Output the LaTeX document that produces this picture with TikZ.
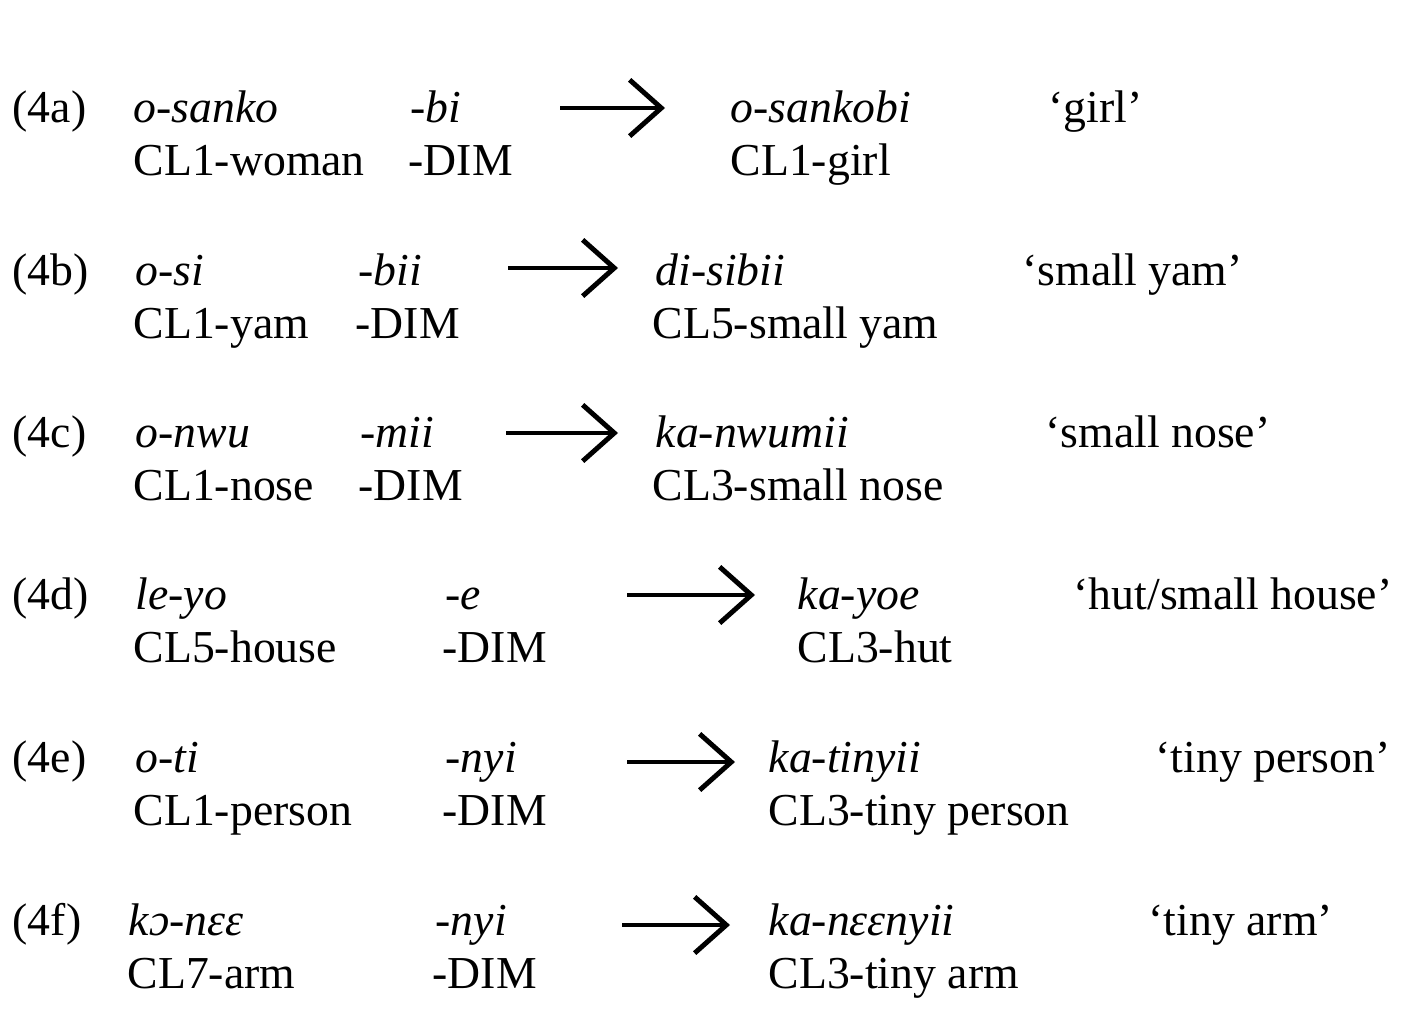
\documentclass[tikz,border=0pt]{standalone}
\usepackage{fontspec}
\setmainfont{Liberation Serif}
\usetikzlibrary{arrows.meta}
\tikzset{
  word/.style={anchor=base west, inner sep=0pt, font=\fontsize{13pt}{15pt}\selectfont},
  form/.style={word, font=\fontsize{13pt}{15pt}\selectfont\itshape},
  derive/.style={line width=1.4pt, -{Straight Barb[length=9pt,width=16pt,line width=1.4pt]}}
}
\begin{document}
\begin{tikzpicture}[x=0.01cm, y=-0.01cm]
        \useasboundingbox (0,0) rectangle (1409,1024);

        % (4a)
        \node[word] (la) at (12,122) {(4a)};
        \node[form] (a1) at (133,122) {o-sanko};
        \node[form] (a2) at (410,122) {-bi};
        \node[form] (a3) at (730,122) {o-sankobi};
        \node[word] (a4) at (1048,122) {‘girl’};
        \node[word] (ga1) at (133,175) {CL1-woman};
        \node[word] (ga2) at (408,175) {-DIM};
        \node[word] (ga3) at (730,175) {CL1-girl};
        \coordinate (as) at (560,108);
        \coordinate (ae) at (665,108);

        % (4b)
        \node[word] (lb) at (12,285) {(4b)};
        \node[form] (b1) at (135,285) {o-si};
        \node[form] (b2) at (358,285) {-bii};
        \node[form] (b3) at (655,285) {di-sibii};
        \node[word] (b4) at (1022,285) {‘small yam’};
        \node[word] (gb1) at (133,338) {CL1-yam};
        \node[word] (gb2) at (355,338) {-DIM};
        \node[word] (gb3) at (652,338) {CL5-small yam};
        \coordinate (bs) at (508,268);
        \coordinate (be) at (618,268);

        % (4c)
        \node[word] (lc) at (12,447) {(4c)};
        \node[form] (c1) at (135,447) {o-nwu};
        \node[form] (c2) at (360,447) {-mii};
        \node[form] (c3) at (655,447) {ka-nwumii};
        \node[word] (c4) at (1045,447) {‘small nose’};
        \node[word] (gc1) at (133,500) {CL1-nose};
        \node[word] (gc2) at (358,500) {-DIM};
        \node[word] (gc3) at (652,500) {CL3-small nose};
        \coordinate (cs) at (506,433);
        \coordinate (ce) at (618,433);

        % (4d)
        \node[word] (ld) at (12,609) {(4d)};
        \node[form] (d1) at (135,609) {le-yo};
        \node[form] (d2) at (445,609) {-e};
        \node[form] (d3) at (797,609) {ka-yoe};
        \node[word] (d4) at (1073,609) {‘hut/small house’};
        \node[word] (gd1) at (133,662) {CL5-house};
        \node[word] (gd2) at (442,662) {-DIM};
        \node[word] (gd3) at (797,662) {CL3-hut};
        \coordinate (ds) at (627,595);
        \coordinate (de) at (755,595);

        % (4e)
        \node[word] (le) at (12,772) {(4e)};
        \node[form] (e1) at (135,772) {o-ti};
        \node[form] (e2) at (445,772) {-nyi};
        \node[form] (e3) at (768,772) {ka-tinyii};
        \node[word] (e4) at (1155,772) {‘tiny person’};
        \node[word] (ge1) at (133,825) {CL1-person};
        \node[word] (ge2) at (442,825) {-DIM};
        \node[word] (ge3) at (768,825) {CL3-tiny person};
        \coordinate (es) at (627,762);
        \coordinate (ee) at (735,762);

        % (4f)
        \node[word] (lf) at (12,935) {(4f)};
        \node[form] (f1) at (128,935) {kɔ-nɛɛ};
        \node[form] (f2) at (435,935) {-nyi};
        \node[form] (f3) at (768,935) {ka-nɛɛnyii};
        \node[word] (f4) at (1148,935) {‘tiny arm’};
        \node[word] (gf1) at (127,988) {CL7-arm};
        \node[word] (gf2) at (432,988) {-DIM};
        \node[word] (gf3) at (768,988) {CL3-tiny arm};
        \coordinate (fs) at (622,925);
        \coordinate (fe) at (730,925);

        % Arrows
        \draw[derive] (as) -- (ae);
        \draw[derive] (bs) -- (be);
        \draw[derive] (cs) -- (ce);
        \draw[derive] (ds) -- (de);
        \draw[derive] (es) -- (ee);
        \draw[derive] (fs) -- (fe);
    \end{tikzpicture}
\end{document}
